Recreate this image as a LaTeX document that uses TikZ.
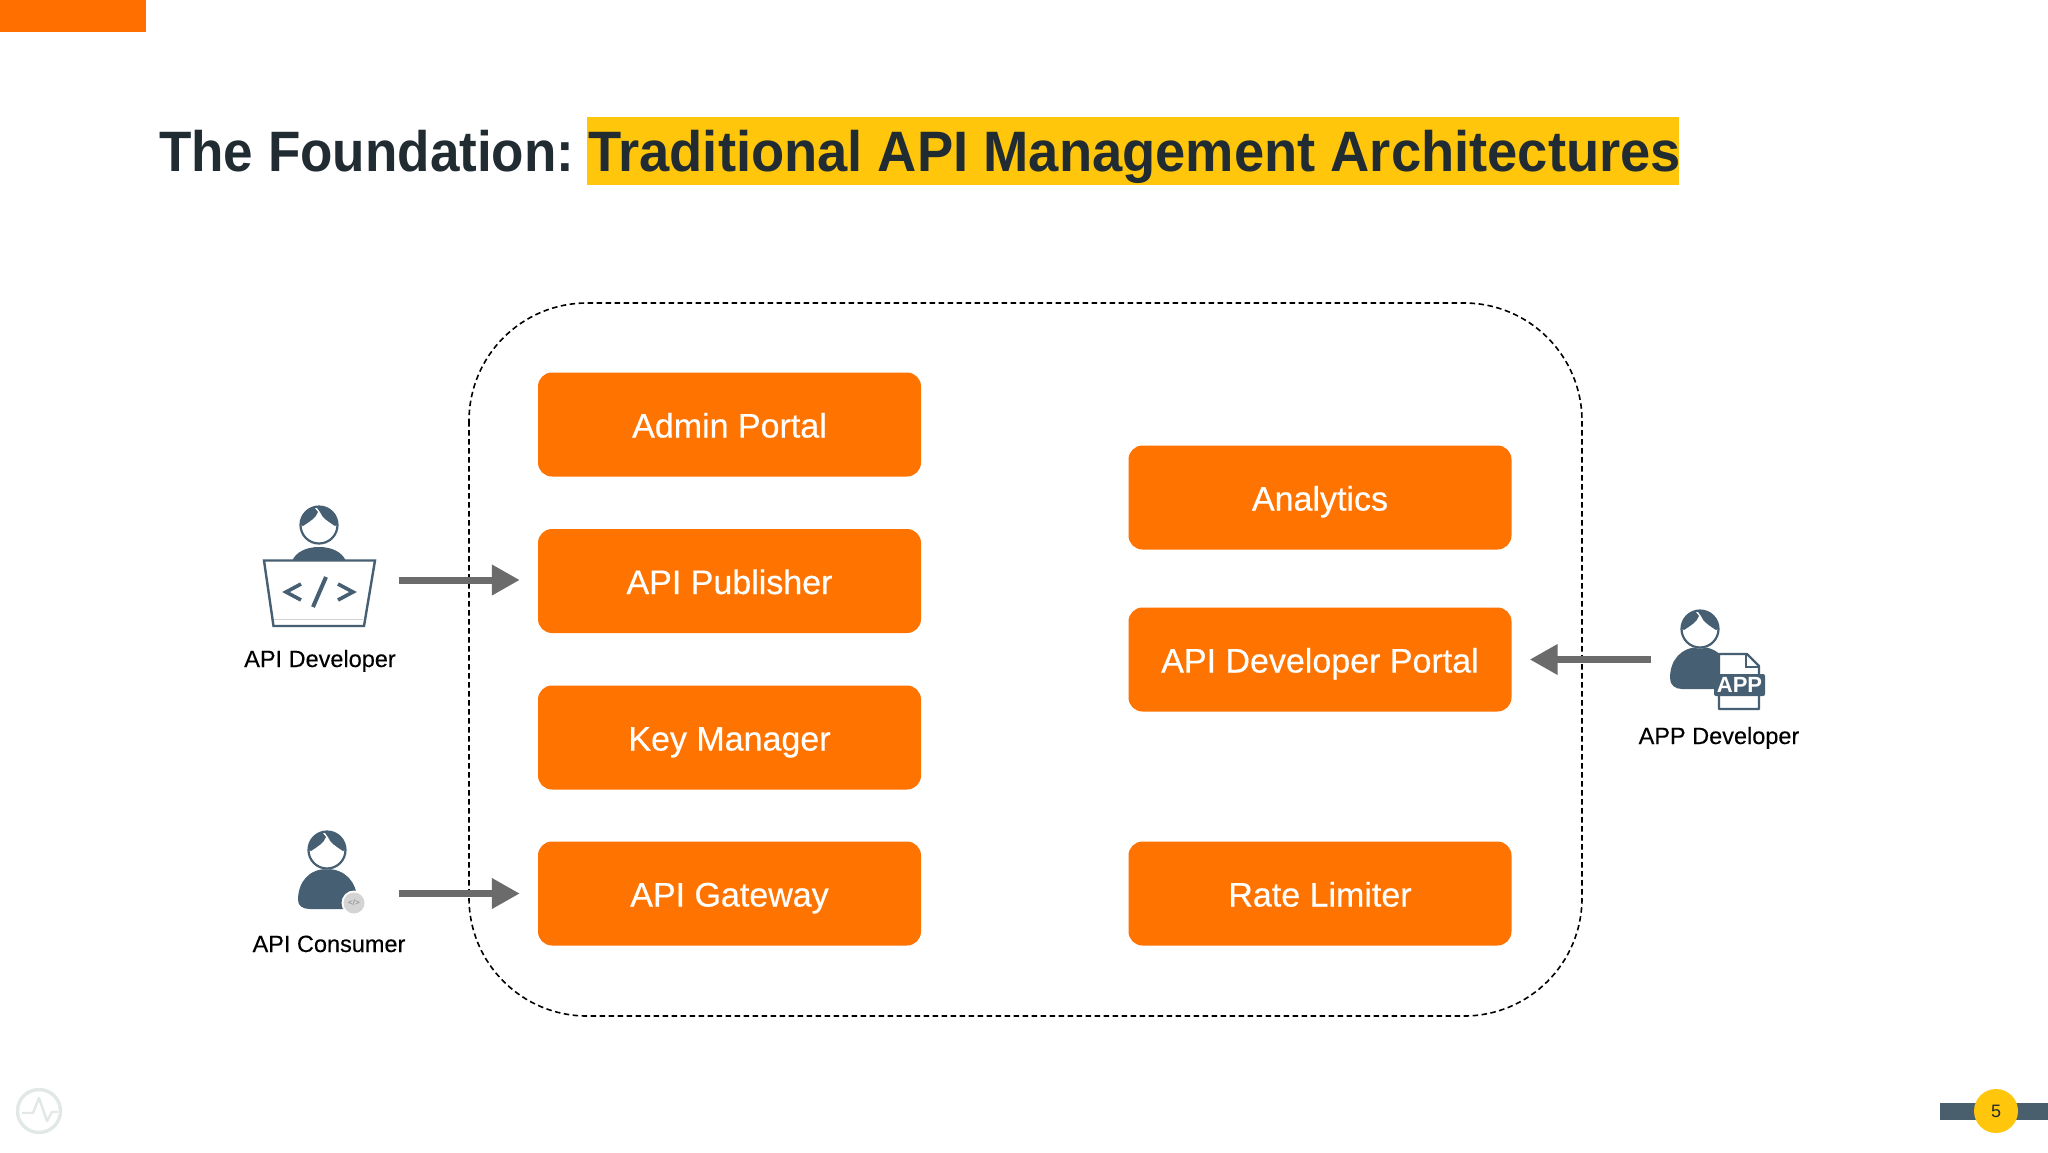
\documentclass[tikz,border=0pt]{standalone}
\usepackage{fontspec}
\setmainfont{Liberation Sans}
\newfontfamily\titlefont[FakeStretch=0.93]{Liberation Sans Bold}
\newfontfamily\titlefontb[FakeStretch=0.953]{Liberation Sans Bold}
\newfontfamily\boxfont[FakeBold=0.45]{Liberation Sans}
\newfontfamily\whofont[FakeBold=0.3]{Liberation Sans}
\usetikzlibrary{arrows.meta}
\definecolor{orangebox}{HTML}{FF7300}
\definecolor{topbar}{HTML}{FF6F00}
\definecolor{hilite}{HTML}{FFC60B}
\definecolor{titleink}{HTML}{212B32}
\definecolor{slate}{HTML}{465F72}
\definecolor{arrowgray}{HTML}{6B6B6B}
\definecolor{barslate}{HTML}{4A5F6E}
\definecolor{logogray}{HTML}{E2E8E6}
\tikzset{
  x=1pt,y=-1pt,
  box/.style={draw=none,fill=orangebox,rounded corners=14pt,minimum width=383pt,minimum height=104pt,text=white,inner sep=0pt,text height=32pt,text depth=6pt,font=\boxfont\fontsize{34}{34}\selectfont},
  flow/.style={draw=arrowgray,line width=7pt,-{Triangle[length=28pt,width=29pt]}},
  who/.style={inner sep=0pt,text=black,text height=21pt,text depth=5pt,font=\whofont\fontsize{23.5}{24}\selectfont},
  headicon/.pic={
    \fill[white] (0,0) circle (19.5);
    \draw[slate,line width=2.2pt] (0,0) circle (18.5);
    \fill[slate] (0,-18.5) arc (-90:-180:18.5) .. controls (-18.5,0) and (-17,0) .. (-16,1)
      .. controls (-10,-3) and (-3,-7) .. (-1,-13) -- (-5,-18) -- cycle;
    \fill[slate] (0,-18.5) arc (-90:0:18.5) .. controls (18.5,0) and (17,0) .. (16,1)
      .. controls (10,-3) and (3,-7) .. (1,-13) -- (-3,-18.5) -- cycle;
  }
}
\begin{document}
\begin{tikzpicture}
\useasboundingbox (0,0) rectangle (2048,1152);
\fill[white] (0,0) rectangle (2048,1152);
\fill[topbar] (0,0) rectangle (146,32);
% title
\fill[hilite] (587,117) rectangle (1679,185);
\node[anchor=base west,inner sep=0pt,text=titleink,font=\titlefont\fontsize{57}{57}\selectfont] (title) at (159,171) {The Foundation:};
\node[anchor=base west,inner sep=0pt,text=titleink,font=\titlefontb\fontsize{57}{57}\selectfont] (titleb) at (588,171) {Traditional API Management Architectures};
% container
\draw[black,line width=1.6pt,dash pattern=on 5.5pt off 3.5pt,rounded corners=118pt] (469,303) rectangle (1582,1016);
% boxes
\node[box] (admin) at (729.5,424.5) {Admin Portal};
\node[box] (pub) at (729.5,581) {API Publisher};
\node[box] (key) at (729.5,737.5) {Key Manager};
\node[box] (gw) at (729.5,893.5) {API Gateway};
\node[box] (ana) at (1320,497.5) {Analytics};
\node[box] (portal) at (1320,659.5) {API Developer Portal};
\node[box] (rate) at (1320,893.5) {Rate Limiter};
% API developer icon
\fill[slate] (292,561) .. controls (296,552) and (306,547) .. (319,547) .. controls (332,547) and (342,552) .. (346,561) -- cycle;
\pic at (319,525) {headicon};
\draw[slate,line width=2.4pt,fill=white,line join=miter] (264,560.5) -- (375,560.5) -- (364,626) -- (273.5,626) -- cycle;
\draw[black!18,line width=0.8pt] (274,619) -- (363,619);
\draw[slate,line width=3.6pt] (301,584) -- (286,592) -- (301,600);
\draw[slate,line width=3.6pt] (338,584) -- (353,592) -- (338,600);
\draw[slate,line width=4pt] (326,577) -- (313,607);
\node[who] (ldev) at (320,659) {API Developer};
% API consumer icon
\fill[slate] (298,900) .. controls (298,882) and (309,869) .. (327,869) .. controls (345,869) and (357,882) .. (357,900) .. controls (357,906) and (352,909) .. (345,909) -- (310,909) .. controls (303,909) and (298,906) .. (298,900) -- cycle;
\pic at (327,850) {headicon};
\fill[white] (354,903) circle (12.5);
\node[circle,fill=black!17,minimum size=21pt,inner sep=0pt,text=black!50,font=\fontsize{8}{8}\selectfont] (badge) at (354,903) {</>};
\node[who] (lcon) at (329,944) {API Consumer};
% APP developer icon
\fill[slate] (1670,678) .. controls (1670,660) and (1681,647) .. (1700,647) .. controls (1718,647) and (1729,660) .. (1730,678) -- (1730,689) -- (1682,689) .. controls (1675,689) and (1670,685) .. (1670,678) -- cycle;
\pic at (1700,629) {headicon};
\draw[slate,line width=2.2pt,fill=white,line join=round] (1719,654) -- (1747,654) -- (1759,666) -- (1759,709) -- (1719,709) -- cycle;
\draw[slate,line width=2.2pt] (1746,654) -- (1746,667) -- (1759,667);
\fill[slate,rounded corners=2pt] (1714,674) rectangle (1765,696);
\node[inner sep=0pt,text=white,font=\fontsize{22}{22}\selectfont\bfseries] (apptag) at (1739.5,685) {APP};
\node[who] (lapp) at (1719,736) {APP Developer};
% connectors
\coordinate (devout) at (399,580);
\coordinate (conout) at (399,893.5);
\coordinate (appout) at (1651,659.5);
\draw[flow,shorten >=18pt] (devout) -- (devout -| pub.west);
\draw[flow,shorten >=18pt] (conout) -- (gw.west);
\draw[flow,shorten >=18pt] (appout) -- (portal.east);
% footer
\draw[logogray,line width=3.4pt] (39,1111) circle (21.5);
\draw[logogray,line width=2.4pt,line join=round] (22,1113) -- (33,1113) -- (39,1098) -- (47,1121) -- (52,1112) -- (58,1112);
\fill[barslate] (1940,1103) rectangle (2048,1120);
\node[circle,fill=hilite,minimum size=44pt,inner sep=0pt,text=titleink,font=\fontsize{18}{18}\selectfont] (pagenum) at (1996,1111) {5};
\end{tikzpicture}
\end{document}
